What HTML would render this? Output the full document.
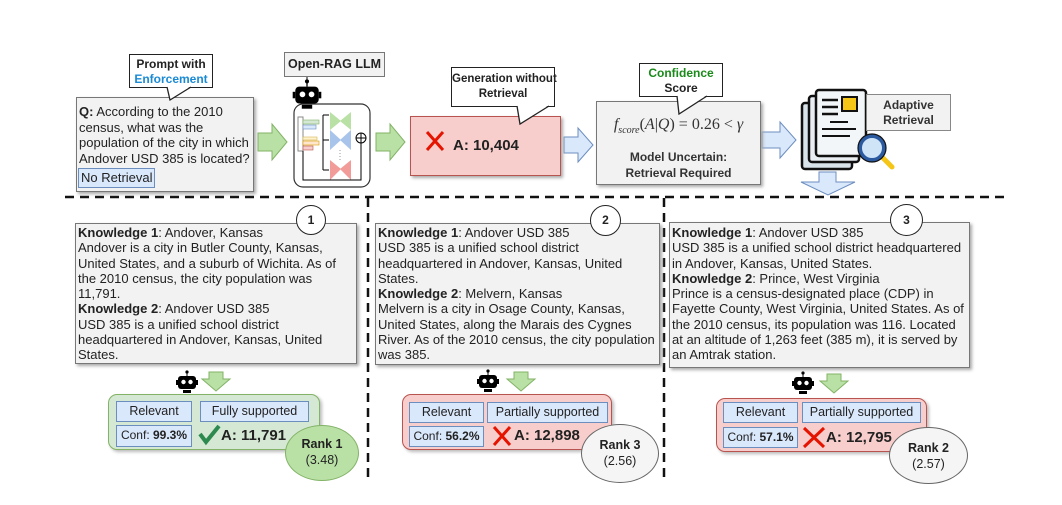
<!DOCTYPE html>
<html><head><meta charset="utf-8"><style>
body{margin:0;width:1062px;height:505px;background:#fff;position:relative;overflow:hidden;font-family:"Liberation Sans",sans-serif;color:#222}
.a{position:absolute;box-sizing:border-box;white-space:nowrap}
.kb{background:#f2f2f2;border:1.5px solid #777;box-shadow:2px 2px 3px #aaa;font-size:13px;line-height:15.3px;padding:1px 2px}
.call{background:#fff;border:1.5px solid #222;font-weight:bold;font-size:12px;text-align:center;line-height:15px}
.tag{background:#dae8fc;border:1.5px solid #6c8ebf;font-size:12.5px;text-align:center;line-height:18px}
.circ{border:1.5px solid #222;border-radius:50%;background:#fff;font-weight:bold;font-size:12px;text-align:center}
.rank{border:1.5px solid #666;border-radius:50%;text-align:center;font-size:12.5px;line-height:16px;padding-top:11px}
b{font-weight:bold}
</style></head><body>
<svg class="a" style="left:0;top:0" width="1062" height="505">
<defs>
<g id="robot"><circle cx="0" cy="-12" r="1.6" fill="#000"/><line x1="0" y1="-11" x2="0" y2="-8" stroke="#000"/><rect x="-9" y="-8" width="18" height="13" rx="3" fill="#000"/><rect x="-11" y="-4" width="2" height="5" fill="#000"/><rect x="9" y="-4" width="2" height="5" fill="#000"/><circle cx="-3.5" cy="-2" r="2.2" fill="#fff"/><circle cx="3.5" cy="-2" r="2.2" fill="#fff"/><rect x="-4" y="6" width="8" height="3" fill="#000"/></g>
<g id="garr"><polygon points="-7,-9 7,-9 7,-2 14,-2 0,10 -14,-2 -7,-2" fill="#b9e0a5" stroke="#82b366"/></g>
</defs>
<line x1="65" y1="197" x2="1005" y2="197" stroke="#111" stroke-width="2.5" stroke-dasharray="9,6"/>
<line x1="368" y1="198" x2="368" y2="482" stroke="#111" stroke-width="2.5" stroke-dasharray="9,6"/>
<line x1="664" y1="198" x2="664" y2="482" stroke="#111" stroke-width="2.5" stroke-dasharray="9,6"/>
<polygon points="258,133 272,133 272,124 287,142 272,160 272,151 258,151" fill="#b9e0a5" stroke="#82b366"/>
<polygon points="376,133 390,133 390,124 405,142 390,160 390,151 376,151" fill="#b9e0a5" stroke="#82b366"/>
<polygon points="564,137 578,137 578,128 593,145 578,162 578,153 564,153" fill="#dae8fc" stroke="#6c8ebf"/>
<polygon points="762,132 780,132 780,122 796,140 780,158 780,148 762,148" fill="#dae8fc" stroke="#6c8ebf"/>
<polygon points="819,172 836,172 836,182 855,182 828,195 801,182 819,182" fill="#dae8fc" stroke="#6c8ebf"/>
<rect x="294" y="104" width="76" height="83" rx="9" fill="#fff" stroke="#333" stroke-width="1.2"/>
<rect x="298" y="117" width="5" height="34" fill="#fff" stroke="#888"/>
<rect x="303" y="120" width="16" height="4" fill="#d5e8d4" stroke="#82b366" stroke-width=".6"/>
<rect x="303" y="125" width="13" height="4" fill="#dae8fc" stroke="#6c8ebf" stroke-width=".6"/>
<rect x="303" y="137" width="14" height="3" fill="#fff2cc" stroke="#d6b656" stroke-width=".6"/>
<rect x="303" y="141" width="16" height="4" fill="#ffe6cc" stroke="#d79b00" stroke-width=".6"/>
<rect x="303" y="146" width="10" height="4" fill="#f8cecc" stroke="#b85450" stroke-width=".6"/>
<line x1="323" y1="115" x2="323" y2="170" stroke="#000"/>
<polygon points="330,112 341,121 330,130" fill="#b9e0a5"/><polygon points="351,112 340,121 351,130" fill="#b9e0a5"/>
<polygon points="330,130 341,140 330,150" fill="#a9c4eb"/><polygon points="351,130 340,140 351,150" fill="#a9c4eb"/>
<polygon points="330,160 341,169 330,180" fill="#f19c99"/><polygon points="351,160 340,169 351,180" fill="#f19c99"/>
<circle cx="361" cy="138" r="5" fill="#fff" stroke="#000"/><line x1="356" y1="138" x2="366" y2="138" stroke="#000"/><line x1="361" y1="133" x2="361" y2="143" stroke="#000"/>
<line x1="323" y1="115" x2="329" y2="115" stroke="#000"/><line x1="323" y1="140" x2="329" y2="140" stroke="#000"/><line x1="323" y1="170" x2="329" y2="170" stroke="#000"/>
<line x1="340" y1="150" x2="340" y2="160" stroke="#999" stroke-dasharray="1,2"/>
<path d="M361,143 V180 H303 V151" fill="none" stroke="#000"/>
<g transform="translate(307,97) scale(1.3)"><use href="#robot"/></g>
<line x1="307" y1="77" x2="307" y2="82" stroke="#000"/>
<rect x="802" y="103" width="50" height="66" rx="3" fill="#d8e3ea" stroke="#111" stroke-width="2.5"/>
<rect x="809" y="96" width="50" height="66" rx="3" fill="#e8eef2" stroke="#111" stroke-width="2.5"/>
<rect x="816" y="90" width="50" height="66" rx="3" fill="#f3f6f8" stroke="#111" stroke-width="2.5"/>
<line x1="822" y1="100" x2="838" y2="100" stroke="#111" stroke-width="2.5"/><line x1="822" y1="107" x2="838" y2="107" stroke="#111" stroke-width="2.5"/><line x1="822" y1="114" x2="838" y2="114" stroke="#111" stroke-width="2.5"/>
<rect x="842" y="97" width="15" height="14" fill="#f5c518" stroke="#111" stroke-width="2"/>
<line x1="830" y1="122" x2="848" y2="122" stroke="#111" stroke-width="2"/><line x1="822" y1="129" x2="856" y2="129" stroke="#111" stroke-width="2"/><line x1="822" y1="136" x2="850" y2="136" stroke="#111" stroke-width="2"/>
<line x1="883" y1="158" x2="892" y2="167" stroke="#f5c518" stroke-width="5" stroke-linecap="round"/>
<circle cx="872" cy="148" r="12" fill="#d0e4f7" stroke="#2c5aa0" stroke-width="4"/>
<circle cx="872" cy="148" r="14" fill="none" stroke="#111" stroke-width="1.2"/>
<g transform="translate(187,384)"><use href="#robot"/></g><g transform="translate(216,381)"><use href="#garr"/></g>
<g transform="translate(488,383)"><use href="#robot"/></g><g transform="translate(521,381)"><use href="#garr"/></g>
<g transform="translate(803,385)"><use href="#robot"/></g><g transform="translate(834,383)"><use href="#garr"/></g>
</svg>

<div class="a kb" style="left:76px;top:97px;width:178px;height:95px;font-size:13px;line-height:15.5px;padding:6px 2px 0 2px"><b>Q:</b> According to the 2010<br>census, what was the<br>population of the city in which<br>Andover USD 385 is located?</div>
<div class="a tag" style="left:78px;top:168px;width:77px;height:20px;text-align:left;padding-left:2px;line-height:17px;font-size:13px">No Retrieval</div>
<div class="a call" style="left:129px;top:54px;width:84px;height:34px;padding-top:2px">Prompt with<br><span style="color:#1a8ad4">Enforcement</span></div>
<svg class="a" style="left:165px;top:85px" width="30" height="18"><polygon points="2,1 26,1 5,15" fill="#fff"/><polyline points="2,2 5,15 26,2" fill="none" stroke="#222" stroke-width="1.3"/></svg>
<div class="a" style="left:284px;top:52px;width:101px;height:25px;background:#f2f2f2;border:1.3px solid #777;font-weight:bold;font-size:12.5px;text-align:center;line-height:23px">Open-RAG LLM</div>

<div class="a" style="left:410px;top:116px;width:151px;height:60px;background:#f8cecc;border:1.5px solid #b85450;font-weight:bold;font-size:15px;line-height:58px;padding-left:42px;box-shadow:2px 2px 3px #aaa">A: 10,404</div>
<div class="a call" style="left:451px;top:67px;width:104px;height:40px;padding-top:4px;font-size:11.5px">Generation without<br>Retrieval</div>
<svg class="a" style="left:515px;top:104px" width="36" height="22"><polygon points="2,1 34,1 5,20" fill="#fff"/><polyline points="2,2 5,20 34,2" fill="none" stroke="#222" stroke-width="1.3"/></svg>

<div class="a kb" style="left:596px;top:101px;width:165px;height:84px;text-align:center;padding:13px 0 0 0">
<div style="font-family:'Liberation Serif',serif;font-style:italic;font-size:16px;color:#333;line-height:20px">f<sub style="font-size:10px">score</sub><span style="font-style:normal">(</span>A<span style="font-style:normal">|</span>Q<span style="font-style:normal">) = 0.26 &lt;</span> γ</div>
<div style="font-weight:bold;font-size:12px;line-height:16px;margin-top:8px;color:#333">Model Uncertain:<br>Retrieval Required</div></div>
<div class="a call" style="left:639px;top:63px;width:84px;height:34px;padding-top:2px"><span style="color:#1a8a1a">Confidence</span><br>Score</div>
<svg class="a" style="left:675px;top:94px" width="34" height="22"><polygon points="2,1 32,1 4,20" fill="#fff"/><polyline points="2,2 4,20 32,2" fill="none" stroke="#222" stroke-width="1.3"/></svg>

<div class="a" style="left:866px;top:94px;width:85px;height:37px;background:#f2f2f2;border:1.3px solid #888;font-weight:bold;font-size:12px;text-align:center;line-height:15px;padding-top:3px;color:#333">Adaptive<br>Retrieval</div>

<div class="a kb" style="left:75px;top:223px;width:282px;height:141px">
<b>Knowledge 1</b>: Andover, Kansas<br>Andover is a city in Butler County, Kansas,<br>United States, and a suburb of Wichita. As of<br>the 2010 census, the city population was<br>11,791.<br><b>Knowledge 2</b>: Andover USD 385<br>USD 385 is a unified school district<br>headquartered in Andover, Kansas, United<br>States.</div>
<div class="a circ" style="left:296px;top:205px;width:30px;height:30px;line-height:28px">1</div>

<div class="a kb" style="left:375px;top:223px;width:285px;height:142px">
<b>Knowledge 1</b>: Andover USD 385<br>USD 385 is a unified school district<br>headquartered in Andover, Kansas, United<br>States.<br><b>Knowledge 2</b>: Melvern, Kansas<br>Melvern is a city in Osage County, Kansas,<br>United States, along the Marais des Cygnes<br>River. As of the 2010 census, the city population<br>was 385.</div>
<div class="a circ" style="left:590px;top:205px;width:31px;height:31px;line-height:29px">2</div>

<div class="a kb" style="left:669px;top:222px;width:301px;height:146px;padding-top:2px">
<b>Knowledge 1</b>: Andover USD 385<br>USD 385 is a unified school district headquartered<br>in Andover, Kansas, United States.<br><b>Knowledge 2</b>: Prince, West Virginia<br>Prince is a census-designated place (CDP) in<br>Fayette County, West Virginia, United States. As of<br>the 2010 census, its population was 116. Located<br>at an altitude of 1,263 feet (385 m), it is served by<br>an Amtrak station.</div>
<div class="a circ" style="left:890px;top:204px;width:33px;height:32px;line-height:30px">3</div>

<div class="a" style="left:108px;top:394px;width:212px;height:56px;background:#d5e8d4;border:1.5px solid #82b366;border-radius:9px;box-shadow:2px 2px 3px #bbb"></div>
<div class="a tag" style="left:116px;top:401px;width:76px;height:21px">Relevant</div>
<div class="a tag" style="left:200px;top:401px;width:109px;height:21px">Fully supported</div>
<div class="a tag" style="left:116px;top:425px;width:76px;height:22px;font-size:12px">Conf: <b>99.3%</b></div>
<div class="a" style="left:221px;top:426px;font-weight:bold;font-size:15px;line-height:20px">A: 11,791</div>
<div class="a rank" style="left:285px;top:425px;width:74px;height:56px;background:#b9e0a5;border-color:#82b366;padding-top:10px"><b>Rank 1</b><br>(3.48)</div>

<div class="a" style="left:402px;top:394px;width:210px;height:56px;background:#f8cecc;border:1.5px solid #b85450;border-radius:9px;box-shadow:2px 2px 3px #bbb"></div>
<div class="a tag" style="left:409px;top:402px;width:75px;height:21px">Relevant</div>
<div class="a tag" style="left:487px;top:402px;width:121px;height:21px">Partially supported</div>
<div class="a tag" style="left:409px;top:426px;width:75px;height:21px;font-size:12px">Conf: <b>56.2%</b></div>
<div class="a" style="left:514px;top:426px;font-weight:bold;font-size:15px;line-height:20px">A: 12,898</div>
<div class="a rank" style="left:581px;top:424px;width:78px;height:59px;background:#f5f5f5;padding-top:12px"><b>Rank 3</b><br>(2.56)</div>

<div class="a" style="left:716px;top:398px;width:211px;height:54px;background:#f8cecc;border:1.5px solid #b85450;border-radius:9px;box-shadow:2px 2px 3px #bbb"></div>
<div class="a tag" style="left:723px;top:402px;width:75px;height:21px">Relevant</div>
<div class="a tag" style="left:802px;top:402px;width:119px;height:21px">Partially supported</div>
<div class="a tag" style="left:723px;top:427px;width:75px;height:21px;font-size:12px">Conf: <b>57.1%</b></div>
<div class="a" style="left:826px;top:428px;font-weight:bold;font-size:15px;line-height:20px">A: 12,795</div>
<div class="a rank" style="left:889px;top:427px;width:79px;height:57px;background:#f5f5f5;padding-top:12px"><b>Rank 2</b><br>(2.57)</div>

<svg class="a" style="left:0;top:0;pointer-events:none" width="1062" height="505">
<path d="M427,132 L443,150 M443,132 L427,150" stroke="#e51400" stroke-width="3"/>
<path d="M200,434 L206,442 L219,426" fill="none" stroke="#2d8a4e" stroke-width="4"/>
<path d="M494,427 L510,445 M510,427 L494,445" stroke="#e51400" stroke-width="3"/>
<path d="M804,428 L824,447 M824,428 L804,447" stroke="#e51400" stroke-width="3"/>
</svg>
</body></html>
